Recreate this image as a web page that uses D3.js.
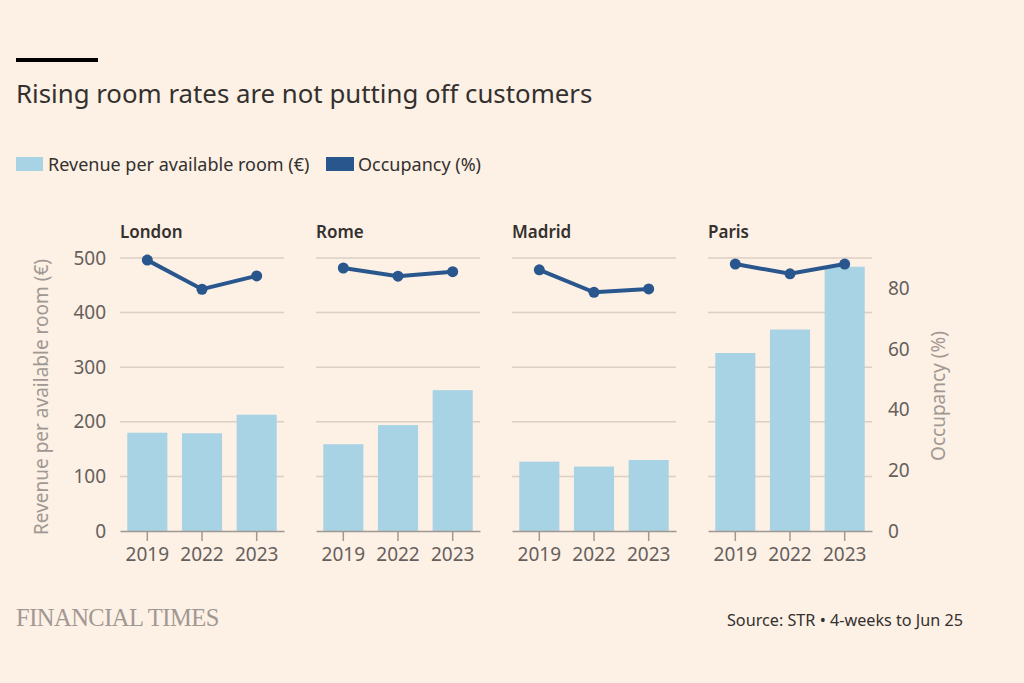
<!DOCTYPE html>
<html>
<head>
<meta charset="utf-8">
<script src="https://cdn.jsdelivr.net/npm/d3@7"></script>
<style>
  body { margin: 0; background: #fdf0e5; }
  svg { display: block; font-family: "Noto Sans", sans-serif; }
</style>
</head>
<body>
<script>
// data
var cities = ["London", "Rome", "Madrid", "Paris"];
var years = ["2019", "2022", "2023"];
// revenue per available room (€), one row per city
var revpar = [
  [180, 179, 213],
  [159, 194, 258],
  [127, 118, 130],
  [326, 369, 484]
];
// occupancy (%)
var occupancy = [
  [89.3, 79.7, 84.1],
  [86.7, 84.0, 85.5],
  [86.1, 78.7, 79.8],
  [88.0, 84.8, 88.0]
];
var leftTicks = [0, 100, 200, 300, 400, 500];
var rightTicks = [0, 20, 40, 60, 80];

var w = 1024, h = 683;
var bg = "#fdf0e5";
var barColor = "#a8d3e5";
var lineColor = "#29578d";
var tickFont = 19;

var svg = d3.select("body").append("svg")
  .attr("width", w)
  .attr("height", h);

svg.append("rect").attr("width", w).attr("height", h).attr("fill", bg);

// title block
svg.append("rect")
  .attr("x", 16).attr("y", 58)
  .attr("width", 82).attr("height", 4)
  .attr("fill", "#000");

svg.append("text")
  .attr("x", 16).attr("y", 103)
  .attr("font-size", 25.8)
  .attr("fill", "#33302e")
  .text("Rising room rates are not putting off customers");

// legend
var legend = svg.append("g").attr("transform", "translate(16,157)");
legend.append("rect").attr("width", 27).attr("height", 14).attr("fill", barColor);
legend.append("text").attr("x", 32).attr("y", 14)
  .attr("font-size", 18).attr("fill", "#33302e")
  .text("Revenue per available room (€)");
legend.append("rect").attr("x", 310).attr("width", 28).attr("height", 14).attr("fill", lineColor);
legend.append("text").attr("x", 342).attr("y", 14)
  .attr("font-size", 18).attr("fill", "#33302e")
  .text("Occupancy (%)");

// scales
var yLeft = d3.scaleLinear().domain([0, 500]).range([531, 258]);
var yRight = d3.scaleLinear().domain([0, 90]).range([531, 258]);

var panel = d3.scaleBand()
  .domain(cities)
  .range([120, 120 + 196 * 4])
  .paddingInner(0);
var panelW = 164;

var x = d3.scaleBand()
  .domain(years)
  .range([0, panelW])
  .paddingInner(0.267)
  .paddingOuter(0.133);

var line = d3.line()
  .x(function(d, i) { return x(years[i]) + x.bandwidth() / 2; })
  .y(function(d) { return yRight(d); });

cities.forEach(function(city, ci) {
  var g = svg.append("g")
    .attr("transform", "translate(" + panel(city) + ",0)");

  g.append("text")
    .attr("x", 0).attr("y", 238)
    .attr("font-size", 17)
    .attr("font-weight", 600)
    .attr("fill", "#33302e")
    .text(city);

  // gridlines
  g.selectAll("line.grid")
    .data(leftTicks.slice(1))
    .enter()
    .append("line")
    .attr("x1", 0).attr("x2", panelW)
    .attr("y1", function(d) { return yLeft(d); })
    .attr("y2", function(d) { return yLeft(d); })
    .attr("stroke", "#dccfc4")
    .attr("stroke-width", 1.5);

  // bars
  g.selectAll("rect.bar")
    .data(revpar[ci])
    .enter()
    .append("rect")
    .attr("x", function(d, i) { return x(years[i]); })
    .attr("y", function(d) { return yLeft(d); })
    .attr("width", x.bandwidth())
    .attr("height", function(d) { return yLeft(0) - yLeft(d); })
    .attr("fill", barColor);

  // baseline + x axis
  var xAxis = g.append("g")
    .attr("transform", "translate(0," + yLeft(0) + ")")
    .call(d3.axisBottom(x).tickSize(10).tickPadding(7).tickSizeOuter(0));
  xAxis.select(".domain").attr("stroke", "#a09893").attr("stroke-width", 1.5);
  xAxis.selectAll(".tick line").attr("stroke", "#a09893").attr("stroke-width", 1.5);
  xAxis.selectAll("text")
    .attr("font-size", tickFont)
    .attr("font-family", "Noto Sans, sans-serif")
    .attr("fill", "#66605c");

  // occupancy line
  g.append("path")
    .datum(occupancy[ci])
    .attr("d", line)
    .attr("fill", "none")
    .attr("stroke", lineColor)
    .attr("stroke-width", 4);

  g.selectAll("circle")
    .data(occupancy[ci])
    .enter()
    .append("circle")
    .attr("cx", function(d, i) { return x(years[i]) + x.bandwidth() / 2; })
    .attr("cy", function(d) { return yRight(d); })
    .attr("r", 5.5)
    .attr("fill", lineColor);
});

// left axis
var leftAxis = svg.append("g")
  .attr("transform", "translate(120,0)")
  .call(d3.axisLeft(yLeft).tickValues(leftTicks).tickSize(0).tickPadding(14));
leftAxis.select(".domain").remove();
leftAxis.selectAll("text")
  .attr("font-size", tickFont)
  .attr("font-family", "Noto Sans, sans-serif")
  .attr("fill", "#66605c");

svg.append("text")
  .attr("transform", "translate(48,397) rotate(-90)")
  .attr("text-anchor", "middle")
  .attr("font-size", tickFont)
  .attr("fill", "#a09893")
  .text("Revenue per available room (€)");

// right axis
var rightAxis = svg.append("g")
  .attr("transform", "translate(" + (panel("Paris") + panelW) + ",0)")
  .call(d3.axisRight(yRight).tickValues(rightTicks).tickSize(0).tickPadding(16));
rightAxis.select(".domain").remove();
rightAxis.selectAll("text")
  .attr("font-size", tickFont)
  .attr("font-family", "Noto Sans, sans-serif")
  .attr("fill", "#66605c");

svg.append("text")
  .attr("transform", "translate(945,396) rotate(-90)")
  .attr("text-anchor", "middle")
  .attr("font-size", tickFont)
  .attr("fill", "#a09893")
  .text("Occupancy (%)");

// footer
svg.append("text")
  .attr("x", 16).attr("y", 626)
  .attr("font-family", "Liberation Serif, serif")
  .attr("font-size", 24.5)
  .attr("fill", "#a09893")
  .attr("letter-spacing", -0.5)
  .text("FINANCIAL TIMES");

svg.append("text")
  .attr("x", 963).attr("y", 626)
  .attr("text-anchor", "end")
  .attr("font-size", 16.2)
  .attr("fill", "#33302e")
  .text("Source: STR • 4-weeks to Jun 25");
</script>
</body>
</html>
